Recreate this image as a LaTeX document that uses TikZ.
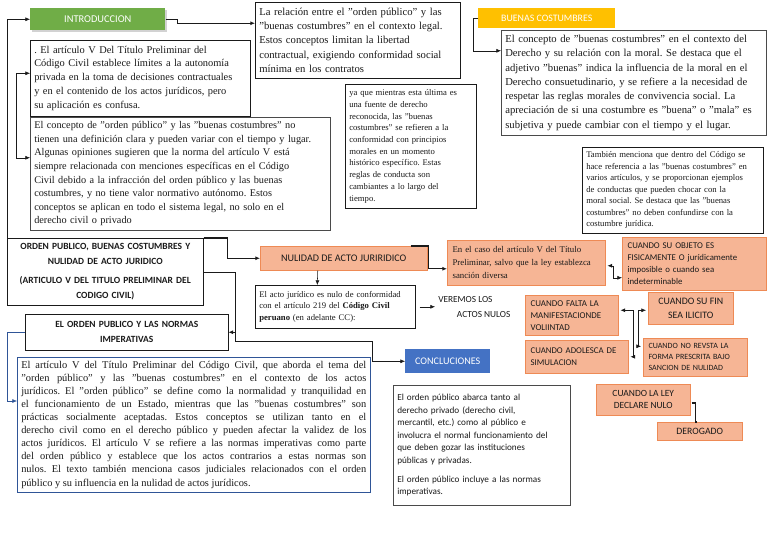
\documentclass[tikz,border=0pt]{standalone}
\usepackage{fontspec}
\setmainfont{Liberation Serif}
\setsansfont{Carlito}
\usetikzlibrary{arrows.meta,positioning,calc,shadows}
\definecolor{CGreen}{HTML}{70AD47}
\definecolor{CGold}{HTML}{FFC000}
\definecolor{CBlue}{HTML}{4472C4}
\definecolor{CNavy}{HTML}{2F5597}
\definecolor{CSalmon}{HTML}{F6B595}
\definecolor{COrange}{HTML}{EE8A55}
\definecolor{CInk}{HTML}{1A1A1A}
\definecolor{CGray}{HTML}{4A4A4A}
\newcommand{\fs}[2]{\fontsize{#1}{#2}\selectfont}
\newcommand{\dq}{\symbol{34}}
\frenchspacing

\begin{document}
\begin{tikzpicture}[x=0.75pt,y=-0.75pt,>={Latex[length=3.5pt,width=3pt]},
    txtbox/.style={draw=CInk,fill=white,anchor=north west,align=left,inner xsep=3pt,inner ysep=1pt,text=CInk},
    hdrbox/.style={anchor=north west,text=white,inner sep=1pt},
    titbox/.style={draw=CInk,fill=white,anchor=north west,align=center,inner xsep=3pt,inner ysep=1pt,text=CInk},
    nulbox/.style={draw=COrange,fill=CSalmon,anchor=north west,inner xsep=4pt,inner ysep=1pt,text=CInk}]
    \fill[white] (0,0) rectangle (768,543);
    \useasboundingbox (0,0) rectangle (768,543);

    % left column
    \node[hdrbox,fill=CGreen,minimum width=101.25pt,minimum height=16.5pt,font=\sffamily\fs{7.8}{9},drop shadow={opacity=0.35,shadow xshift=1pt,shadow yshift=-1.2pt}] (intro) at (30,8) {INTRODUCCION};
    \node[txtbox,text width=159pt,minimum height=57pt,font=\fs{7.8}{10.4}] (introtxt) at (30,40) {. El artículo V Del Título Preliminar del\\ Código Civil establece límites a la autonomía\\ privada en la toma de decisiones contractuales\\ y en el contenido de los actos jurídicos, pero\\ su aplicación es confusa.};
    \node[txtbox,draw=CGray,text width=219pt,minimum height=84.75pt,font=\fs{7.7}{10.2}] (ordentxt) at (30,117) {El concepto de \dq{}orden público\dq{} y las \dq{}buenas costumbres\dq{} no\\ tienen una definición clara y pueden variar con el tiempo y lugar.\\ Algunas opiniones sugieren que la norma del artículo V está\\ siempre relacionada con menciones específicas en el Código\\ Civil debido a la infracción del orden público y las buenas\\ costumbres, y no tiene valor normativo autónomo. Estos\\ conceptos se aplican en todo el sistema legal, no solo en el\\ derecho civil o privado};
    \node[titbox,text width=141pt,minimum height=50.25pt,font=\sffamily\bfseries\fs{7.1}{11.2}] (orden) at (7,238) {ORDEN PUBLICO, BUENAS COSTUMBRES Y\\ NULIDAD DE ACTO JURIDICO\\[3pt] (ARTICULO V DEL TITULO PRELIMINAR DEL\\ CODIGO CIVIL)};
    \node[titbox,text width=146.25pt,minimum height=27pt,font=\sffamily\bfseries\fs{7.1}{11.2}] (normas) at (25,314) {EL ORDEN PUBLICO Y LAS NORMAS\\ IMPERATIVAS};
    \node[txtbox,draw=CNavy,text width=258.75pt,align=justify,minimum height=101.25pt,font=\fs{7.8}{9.8}] (articulo) at (17,357) {El artículo V del Título Preliminar del Código Civil, que aborda el tema del\linebreak \dq{}orden público\dq{} y las \dq{}buenas costumbres\dq{} en el contexto de los actos\linebreak jurídicos. El \dq{}orden público\dq{} se define como la normalidad y tranquilidad en\linebreak el funcionamiento de un Estado, mientras que las \dq{}buenas costumbres\dq{} son\linebreak prácticas socialmente aceptadas. Estos conceptos se utilizan tanto en el\linebreak derecho civil como en el derecho público y pueden afectar la validez de los\linebreak actos jurídicos. El artículo V se refiere a las normas imperativas como parte\linebreak del orden público y establece que los actos contrarios a estas normas son\linebreak nulos. El texto también menciona casos judiciales relacionados con el orden\linebreak público y su influencia en la nulidad de actos jurídicos.};

    % top and middle
    \node[txtbox,text width=147.75pt,minimum height=57pt,font=\fs{8}{10.6}] (relacion) at (255,2) {La relación entre el \dq{}orden público\dq{} y las\\ \dq{}buenas costumbres\dq{} en el contexto legal.\\ Estos conceptos limitan la libertad\\ contractual, exigiendo conformidad social\\ mínima en los contratos};
    \node[txtbox,text width=92.25pt,minimum height=93pt,font=\fs{6.5}{8.8}] (moral) at (345,84) {ya que mientras esta última es\\ una fuente de derecho\\ reconocida, las \dq{}buenas\\ costumbres\dq{} se refieren a la\\ conformidad con principios\\ morales en un momento\\ histórico específico. Estas\\ reglas de conducta son\\ cambiantes a lo largo del\\ tiempo.};
    \node[hdrbox,fill=CGold,minimum width=102.75pt,minimum height=15pt,font=\sffamily\fs{7.4}{9}] (buenas) at (478,8) {BUENAS COSTUMBRES};
    \node[txtbox,draw=CGray,text width=192.75pt,minimum height=78.75pt,font=\fs{8}{10.7}] (bctxt) at (501,30) {El concepto de \dq{}buenas costumbres\dq{} en el contexto del\\ Derecho y su relación con la moral. Se destaca que el\\ adjetivo \dq{}buenas\dq{} indica la influencia de la moral en el\\ Derecho consuetudinario, y se refiere a la necesidad de\\ respetar las reglas morales de convivencia social. La\\ apreciación de si una costumbre es \dq{}buena\dq{} o \dq{}mala\dq{} es\\ subjetiva y puede cambiar con el tiempo y el lugar.};
    \node[txtbox,text width=129.75pt,minimum height=64.5pt,font=\fs{6.5}{8.6}] (codigo) at (582,147) {También menciona que dentro del Código se\\ hace referencia a las \dq{}buenas costumbres\dq{} en\\ varios artículos, y se proporcionan ejemplos\\ de conductas que pueden chocar con la\\ moral social. Se destaca que las \dq{}buenas\\ costumbres\dq{} no deben confundirse con la\\ costumbre jurídica.};

    % nulidad
    \node[nulbox,minimum width=125.25pt,minimum height=18pt,font=\sffamily\fs{7.6}{9}] (nulidad) at (260,246) {NULIDAD DE ACTO JURIRIDICO};
    \node[txtbox,text width=114pt,minimum height=32.25pt,font=\fs{6.5}{8.4}] (acto) at (255,285) {El acto jurídico es nulo de conformidad\\ con el artículo 219 del \textbf{Código Civil}\\ \textbf{peruano} (en adelante CC):};
    \node[anchor=north west,align=left,inner sep=0pt,font=\sffamily\fs{7}{11.25},text=CInk] (veremos) at (438,296) {VEREMOS LOS\\ \hspace*{14pt}ACTOS NULOS};
    \node[nulbox,text width=110.5pt,align=left,minimum height=33.75pt,font=\fs{6.6}{9.6}] (caso) at (447,240) {En el caso del artículo V del Título\\ Preliminar, salvo que la ley establezca\\ sanción diversa};
    \node[nulbox,text width=100pt,align=left,minimum height=39.75pt,font=\sffamily\fs{6.6}{9.2}] (objeto) at (622,237) {CUANDO SU OBJETO ES\\ FISICAMENTE O jurídicamente\\ imposible o cuando sea\\ indeterminable};
    \node[nulbox,text width=61.75pt,align=left,minimum height=30pt,font=\sffamily\fs{6.7}{9}] (falta) at (525,295) {CUANDO FALTA LA\\ MANIFESTACIONDE\\ VOLIINTAD};
    \node[nulbox,align=center,minimum width=63.75pt,minimum height=24pt,font=\sffamily\fs{7.4}{10.5}] (fin) at (648,292) {CUANDO SU FIN\\ SEA ILICITO};
    \node[nulbox,text width=69.25pt,align=left,minimum height=24.75pt,font=\sffamily\fs{6.6}{9}] (adolesca) at (525,340) {CUANDO ADOLESCA DE\\ SIMULACION};
    \node[nulbox,text width=70pt,align=left,minimum height=28.5pt,font=\sffamily\fs{6}{8.2}] (revsta) at (643,338) {CUANDO NO REVSTA LA\\ FORMA PRESCRITA BAJO\\ SANCION DE NULIDAD};
    \node[nulbox,align=center,minimum width=70.5pt,minimum height=23.25pt,font=\sffamily\fs{7.1}{9}] (ley) at (596,384) {CUANDO LA LEY\\ DECLARE NULO};
    \node[nulbox,minimum width=63.75pt,minimum height=13.5pt,font=\sffamily\fs{7.3}{8}] (derogado) at (657,422) {DEROGADO};

    % conclusiones
    \node[hdrbox,fill=CBlue,minimum width=63.75pt,minimum height=18pt,font=\sffamily\fs{7.6}{9}] (concl) at (405,349) {CONCLUCIONES};
    \node[txtbox,draw=CGray,text width=126.75pt,minimum height=90pt,font=\sffamily\fs{6.9}{9.4}] (concltxt) at (393,385) {El orden público abarca tanto al\\ derecho privado (derecho civil,\\ mercantil, etc.) como al público e\\ involucra el normal funcionamiento del\\ que deben gozar las instituciones\\ públicas y privadas.\\[5pt] El orden público incluye a las normas\\ imperativas.};

    % connectors
    \coordinate (brk) at ($(orden.east)+(32,0)$);
    \draw[->,CInk] (orden.north west) |- (intro.west);
    \draw[<->,CInk] ($(introtxt.west)+(0,-5)$) -- ++(-14,0) |- ($(ordentxt.west)+(0,-16)$);
    \draw[->,CInk,thick] (intro.east) -- ++(12,0) |- ($(relacion.west)+(0,-17)$);
    \draw[->,CInk] (buenas.west) -- ++(-5,0) |- ($(bctxt.west)+(0,-32)$);
    \draw[->,CInk,thick] (orden.north east) -- ++(24,0) |- (nulidad.west);
    \draw[->,CInk] (orden.east) -- (brk) |- ($(concl.west)+(-33,-20)$) -- ($(concl.west)+(-33,0)$) -- (concl.west);
    \draw[->,CInk] (brk |- normas.east) -- (normas.east);
    \draw[->,CNavy] (normas.west) -- ++(-18,0) |- ($(articulo.north west)+(0,44)$);
    \draw[->,CInk,thick] ($(nulidad.north east)+(-17,0)$) -- ($(nulidad.north east)+(1,0)$) |- ($(caso.west)+(0,6)$);
    \draw[->,CInk] ($(nulidad.south)+(-26,0)$) -- ($(acto.north)+(-18,0)$);
    \draw[->,CInk] ($(acto.east)+(4,0)$) -- ($(acto.east -| veremos.west)+(-3,0)$);
    \draw[<->,CInk] ($(caso.east)+(2,3)$) -- ++(6,0) |- ($(objeto.west)+(0,14)$);
    \draw[<->,CInk] ($(falta.east)+(2,-5)$) -- ++(13,0) |- ($(adolesca.east)+(2,0)$);
    \draw[<->,CInk] ($(fin.west)+(-2,2)$) -- ++(-8,0) |- ($(revsta.west)+(-2,-11)$);
    \draw[CInk,very thick] ($(ley.east)+(1,3)$) -- ++(4,0) |- ($(derogado.north)+(-4,0)$);
\end{tikzpicture}
\end{document}
